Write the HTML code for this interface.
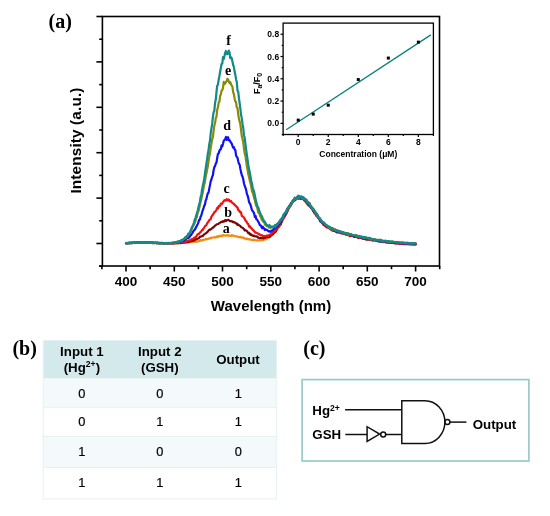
<!DOCTYPE html>
<html><head><meta charset="utf-8"><style>
html,body{margin:0;padding:0;background:#fff;}
body{width:550px;height:516px;overflow:hidden;position:relative;}
svg{position:absolute;left:0;top:0;}
.tl{font:bold 13.5px "Liberation Sans",Arial,sans-serif;text-anchor:middle;fill:#000;}
.al{font:bold 15px "Liberation Sans",Arial,sans-serif;text-anchor:middle;fill:#000;}
.il{font:bold 8.5px "Liberation Sans",Arial,sans-serif;fill:#000;}
.it{font:bold 8.5px "Liberation Sans",Arial,sans-serif;fill:#000;}
.cl{font:bold 14px "Liberation Serif","Times New Roman",serif;fill:#000;}
.pl{font:bold 20px "Liberation Serif","Times New Roman",serif;fill:#000;}
.th{font:bold 13.3px "Liberation Sans",Arial,sans-serif;fill:#000;text-anchor:middle;}
.td{font:12.8px "Liberation Sans",Arial,sans-serif;fill:#000;stroke:#000;stroke-width:0.2px;text-anchor:middle;}
.gl{font:bold 13.3px "Liberation Sans",Arial,sans-serif;fill:#000;}
</style></head><body>
<svg width="550" height="516" viewBox="0 0 550 516">
<text x="48.6" y="27.9" class="pl">(a)</text>
<text x="12.4" y="354.6" class="pl">(b)</text>
<text x="303.3" y="355" class="pl">(c)</text>
<text x="271" y="311" class="al">Wavelength (nm)</text>
<text transform="translate(80.6,140.5) rotate(-90)" class="al" style="font-size:15.3px;letter-spacing:0.15px">Intensity (a.u.)</text>
<rect x="102.4" y="16.5" width="337.1" height="249.5" fill="none" stroke="#000" stroke-width="1.6"/>
<line x1="96.4" y1="16.5" x2="102.4" y2="16.5" stroke="#000" stroke-width="1.6"/>
<line x1="99.2" y1="39.2" x2="102.4" y2="39.2" stroke="#000" stroke-width="1.6"/>
<line x1="96.4" y1="61.9" x2="102.4" y2="61.9" stroke="#000" stroke-width="1.6"/>
<line x1="99.2" y1="84.6" x2="102.4" y2="84.6" stroke="#000" stroke-width="1.6"/>
<line x1="96.4" y1="107.3" x2="102.4" y2="107.3" stroke="#000" stroke-width="1.6"/>
<line x1="99.2" y1="130.0" x2="102.4" y2="130.0" stroke="#000" stroke-width="1.6"/>
<line x1="96.4" y1="152.7" x2="102.4" y2="152.7" stroke="#000" stroke-width="1.6"/>
<line x1="99.2" y1="175.4" x2="102.4" y2="175.4" stroke="#000" stroke-width="1.6"/>
<line x1="96.4" y1="198.1" x2="102.4" y2="198.1" stroke="#000" stroke-width="1.6"/>
<line x1="99.2" y1="220.8" x2="102.4" y2="220.8" stroke="#000" stroke-width="1.6"/>
<line x1="96.4" y1="243.5" x2="102.4" y2="243.5" stroke="#000" stroke-width="1.6"/>
<line x1="99.2" y1="266.2" x2="102.4" y2="266.2" stroke="#000" stroke-width="1.6"/>
<line x1="99.2" y1="266.0" x2="102.4" y2="266.0" stroke="#000" stroke-width="1.6"/>
<line x1="101.9" y1="266.0" x2="101.9" y2="269.2" stroke="#000" stroke-width="1.6"/>
<line x1="126.0" y1="266.0" x2="126.0" y2="271.5" stroke="#000" stroke-width="1.6"/>
<text x="126.0" y="285.5" class="tl">400</text>
<line x1="150.1" y1="266.0" x2="150.1" y2="269.2" stroke="#000" stroke-width="1.6"/>
<line x1="174.3" y1="266.0" x2="174.3" y2="271.5" stroke="#000" stroke-width="1.6"/>
<text x="174.3" y="285.5" class="tl">450</text>
<line x1="198.4" y1="266.0" x2="198.4" y2="269.2" stroke="#000" stroke-width="1.6"/>
<line x1="222.5" y1="266.0" x2="222.5" y2="271.5" stroke="#000" stroke-width="1.6"/>
<text x="222.5" y="285.5" class="tl">500</text>
<line x1="246.7" y1="266.0" x2="246.7" y2="269.2" stroke="#000" stroke-width="1.6"/>
<line x1="270.8" y1="266.0" x2="270.8" y2="271.5" stroke="#000" stroke-width="1.6"/>
<text x="270.8" y="285.5" class="tl">550</text>
<line x1="294.9" y1="266.0" x2="294.9" y2="269.2" stroke="#000" stroke-width="1.6"/>
<line x1="319.1" y1="266.0" x2="319.1" y2="271.5" stroke="#000" stroke-width="1.6"/>
<text x="319.1" y="285.5" class="tl">600</text>
<line x1="343.2" y1="266.0" x2="343.2" y2="269.2" stroke="#000" stroke-width="1.6"/>
<line x1="367.3" y1="266.0" x2="367.3" y2="271.5" stroke="#000" stroke-width="1.6"/>
<text x="367.3" y="285.5" class="tl">650</text>
<line x1="391.5" y1="266.0" x2="391.5" y2="269.2" stroke="#000" stroke-width="1.6"/>
<line x1="415.6" y1="266.0" x2="415.6" y2="271.5" stroke="#000" stroke-width="1.6"/>
<text x="415.6" y="285.5" class="tl">700</text>
<line x1="439.7" y1="266.0" x2="439.7" y2="269.2" stroke="#000" stroke-width="1.6"/>
<path d="M126.00,243.14 L126.72,243.08 L127.45,243.13 L128.17,243.19 L128.90,243.11 L129.62,243.15 L130.34,242.97 L131.07,242.74 L131.79,242.99 L132.52,242.97 L133.24,242.76 L133.96,242.75 L134.69,242.75 L135.41,242.88 L136.14,242.70 L136.86,242.55 L137.58,242.86 L138.31,242.68 L139.03,242.90 L139.76,242.78 L140.48,242.86 L141.20,242.56 L141.93,242.73 L142.65,242.45 L143.38,242.47 L144.10,242.53 L144.82,242.95 L145.55,242.61 L146.27,242.54 L147.00,242.53 L147.72,242.84 L148.44,242.68 L149.17,242.80 L149.89,242.80 L150.62,242.52 L151.34,242.86 L152.06,242.77 L152.79,242.66 L153.51,242.93 L154.24,242.89 L154.96,242.89 L155.68,242.93 L156.41,243.16 L157.13,242.99 L157.85,242.84 L158.58,243.28 L159.30,242.97 L160.03,243.09 L160.75,243.22 L161.47,242.88 L162.20,243.07 L162.92,243.34 L163.65,243.18 L164.37,243.13 L165.09,243.24 L165.82,243.13 L166.54,243.23 L167.27,243.14 L167.99,243.05 L168.71,243.31 L169.44,243.20 L170.16,243.28 L170.89,243.20 L171.61,243.36 L172.33,243.28 L173.06,243.22 L173.78,243.07 L174.51,243.02 L175.23,243.33 L175.95,243.25 L176.68,243.04 L177.40,243.38 L178.13,243.15 L178.85,243.07 L179.57,242.85 L180.30,242.90 L181.02,243.02 L181.75,243.00 L182.47,242.94 L183.19,242.63 L183.92,242.89 L184.64,242.82 L185.37,242.67 L186.09,242.69 L186.81,242.65 L187.54,242.74 L188.26,242.49 L188.99,242.49 L189.71,242.13 L190.43,242.14 L191.16,242.18 L191.88,241.95 L192.61,242.05 L193.33,241.68 L194.05,241.78 L194.78,241.55 L195.50,241.83 L196.23,241.35 L196.95,241.67 L197.67,241.62 L198.40,241.10 L199.12,241.09 L199.85,240.70 L200.57,240.04 L201.29,240.62 L202.02,240.41 L202.74,240.04 L203.47,239.79 L204.19,239.79 L204.91,239.62 L205.64,239.19 L206.36,239.06 L207.09,239.30 L207.81,238.85 L208.53,238.62 L209.26,238.75 L209.98,238.18 L210.71,238.32 L211.43,237.59 L212.15,237.64 L212.88,237.49 L213.60,237.52 L214.32,237.20 L215.05,237.62 L215.77,237.19 L216.50,236.55 L217.22,237.20 L217.94,236.10 L218.67,236.81 L219.39,235.86 L220.12,236.27 L220.84,235.62 L221.56,235.74 L222.29,236.21 L223.01,235.20 L223.74,235.07 L224.46,235.52 L225.18,235.55 L225.91,235.48 L226.63,235.74 L227.36,235.03 L228.08,235.59 L228.80,235.44 L229.53,235.72 L230.25,235.71 L230.98,235.98 L231.70,235.20 L232.42,235.75 L233.15,235.46 L233.87,235.88 L234.60,236.22 L235.32,236.22 L236.04,236.42 L236.77,236.37 L237.49,236.64 L238.22,236.76 L238.94,237.26 L239.66,237.24 L240.39,236.64 L241.11,237.53 L241.84,237.82 L242.56,237.58 L243.28,237.44 L244.01,238.47 L244.73,238.29 L245.46,238.59 L246.18,239.09 L246.90,238.57 L247.63,238.96 L248.35,239.10 L249.08,239.48 L249.80,239.30 L250.52,239.70 L251.25,239.72 L251.97,240.09 L252.70,240.23 L253.42,239.68 L254.14,240.24 L254.87,240.13 L255.59,240.28 L256.32,240.43 L257.04,240.49 L257.76,240.24 L258.49,240.48 L259.21,240.43 L259.94,240.36 L260.66,240.03 L261.38,240.08 L262.11,240.06 L262.83,240.17 L263.56,240.23 L264.28,239.45 L265.00,239.22 L265.73,239.27 L266.45,238.80 L267.18,238.40 L267.90,238.01 L268.62,237.57 L269.35,237.53 L270.07,236.41 L270.80,236.74 L271.52,235.45 L272.24,234.91 L272.97,234.06 L273.69,232.93 L274.41,232.24 L275.14,232.37 L275.86,231.67 L276.59,229.68 L277.31,229.41 L278.03,227.90 L278.76,226.38 L279.48,226.32 L280.21,225.33 L280.93,222.95 L281.65,221.75 L282.38,220.56 L283.10,219.05 L283.83,218.15 L284.55,217.12 L285.27,214.99 L286.00,214.05 L286.72,213.05 L287.45,210.44 L288.17,209.42 L288.89,207.83 L289.62,207.41 L290.34,205.99 L291.07,205.04 L291.79,203.88 L292.51,202.17 L293.24,201.87 L293.96,200.27 L294.69,199.53 L295.41,197.75 L296.13,199.48 L296.86,197.52 L297.58,197.86 L298.31,197.60 L299.03,198.49 L299.75,197.86 L300.48,197.18 L301.20,197.94 L301.93,198.08 L302.65,198.60 L303.37,197.99 L304.10,199.26 L304.82,201.30 L305.55,200.98 L306.27,202.56 L306.99,204.17 L307.72,203.22 L308.44,202.85 L309.17,204.48 L309.89,206.13 L310.61,206.93 L311.34,206.66 L312.06,208.29 L312.79,209.42 L313.51,210.54 L314.23,211.54 L314.96,212.12 L315.68,213.27 L316.41,214.49 L317.13,216.23 L317.85,216.44 L318.58,218.12 L319.30,218.20 L320.03,220.39 L320.75,220.72 L321.47,221.48 L322.20,222.87 L322.92,222.08 L323.65,222.86 L324.37,224.39 L325.09,224.39 L325.82,225.12 L326.54,227.01 L327.27,226.21 L327.99,226.85 L328.71,227.26 L329.44,228.22 L330.16,228.31 L330.88,228.68 L331.61,228.49 L332.33,229.20 L333.06,229.67 L333.78,229.35 L334.50,230.49 L335.23,230.71 L335.95,231.55 L336.68,230.46 L337.40,230.95 L338.12,231.21 L338.85,231.55 L339.57,231.99 L340.30,232.17 L341.02,232.56 L341.74,232.76 L342.47,232.87 L343.19,232.53 L343.92,233.09 L344.64,233.51 L345.36,233.90 L346.09,234.11 L346.81,233.50 L347.54,234.08 L348.26,234.42 L348.98,234.75 L349.71,235.19 L350.43,235.00 L351.16,234.86 L351.88,235.46 L352.60,235.57 L353.33,235.74 L354.05,235.79 L354.78,236.52 L355.50,236.23 L356.22,236.59 L356.95,236.19 L357.67,236.87 L358.40,236.60 L359.12,236.45 L359.84,237.18 L360.57,237.41 L361.29,237.32 L362.02,237.52 L362.74,237.96 L363.46,237.67 L364.19,237.35 L364.91,238.16 L365.64,238.29 L366.36,238.67 L367.08,238.41 L367.81,239.00 L368.53,239.09 L369.26,238.57 L369.98,239.31 L370.70,238.90 L371.43,238.93 L372.15,239.40 L372.88,239.46 L373.60,239.23 L374.32,239.92 L375.05,240.15 L375.77,240.47 L376.50,240.25 L377.22,240.02 L377.94,240.27 L378.67,240.85 L379.39,240.94 L380.12,240.97 L380.84,240.90 L381.56,241.12 L382.29,241.13 L383.01,241.22 L383.74,241.44 L384.46,241.48 L385.18,241.52 L385.91,241.66 L386.63,241.62 L387.35,241.42 L388.08,241.76 L388.80,241.94 L389.53,242.36 L390.25,242.03 L390.97,242.55 L391.70,242.51 L392.42,242.16 L393.15,242.26 L393.87,242.49 L394.59,242.83 L395.32,242.67 L396.04,242.78 L396.77,242.63 L397.49,242.44 L398.21,242.83 L398.94,243.05 L399.66,243.17 L400.39,243.06 L401.11,243.14 L401.83,243.32 L402.56,243.21 L403.28,243.41 L404.01,243.22 L404.73,243.27 L405.45,243.32 L406.18,243.52 L406.90,243.46 L407.63,243.57 L408.35,243.63 L409.07,243.66 L409.80,243.79 L410.52,243.83 L411.25,243.64 L411.97,243.76 L412.69,243.74 L413.42,243.68 L414.14,243.97 L414.87,243.88 L415.59,243.80" stroke="#f68a10" stroke-width="2.2" fill="none" stroke-linejoin="round" stroke-linecap="round"/>
<path d="M126.00,243.09 L126.72,243.17 L127.45,242.95 L128.17,243.04 L128.90,243.21 L129.62,243.15 L130.34,242.86 L131.07,242.88 L131.79,243.20 L132.52,242.67 L133.24,242.74 L133.96,242.59 L134.69,242.83 L135.41,242.78 L136.14,242.88 L136.86,242.24 L137.58,242.66 L138.31,242.33 L139.03,242.69 L139.76,242.53 L140.48,242.83 L141.20,242.59 L141.93,242.34 L142.65,242.72 L143.38,242.31 L144.10,242.44 L144.82,242.69 L145.55,242.61 L146.27,242.62 L147.00,242.56 L147.72,242.67 L148.44,242.74 L149.17,242.68 L149.89,242.83 L150.62,242.91 L151.34,242.74 L152.06,242.62 L152.79,243.05 L153.51,242.84 L154.24,242.97 L154.96,243.06 L155.68,242.81 L156.41,243.05 L157.13,242.79 L157.85,243.15 L158.58,243.01 L159.30,243.12 L160.03,243.21 L160.75,243.05 L161.47,243.17 L162.20,243.09 L162.92,243.19 L163.65,243.33 L164.37,243.22 L165.09,243.20 L165.82,243.10 L166.54,243.33 L167.27,243.23 L167.99,243.43 L168.71,243.14 L169.44,243.35 L170.16,243.44 L170.89,243.21 L171.61,243.05 L172.33,243.38 L173.06,243.31 L173.78,243.24 L174.51,243.28 L175.23,243.05 L175.95,243.19 L176.68,243.15 L177.40,242.92 L178.13,243.08 L178.85,242.86 L179.57,243.03 L180.30,243.02 L181.02,243.06 L181.75,242.39 L182.47,242.68 L183.19,242.51 L183.92,242.47 L184.64,242.33 L185.37,242.25 L186.09,241.78 L186.81,242.22 L187.54,242.19 L188.26,241.94 L188.99,241.85 L189.71,241.23 L190.43,241.02 L191.16,241.21 L191.88,241.10 L192.61,240.63 L193.33,239.94 L194.05,240.74 L194.78,239.60 L195.50,239.72 L196.23,238.82 L196.95,239.07 L197.67,238.49 L198.40,238.48 L199.12,237.93 L199.85,236.79 L200.57,236.53 L201.29,236.47 L202.02,236.15 L202.74,236.02 L203.47,235.01 L204.19,234.37 L204.91,233.86 L205.64,233.31 L206.36,233.14 L207.09,232.18 L207.81,231.59 L208.53,230.48 L209.26,229.64 L209.98,229.86 L210.71,229.53 L211.43,228.65 L212.15,228.29 L212.88,227.77 L213.60,226.89 L214.32,226.76 L215.05,225.46 L215.77,225.25 L216.50,224.56 L217.22,224.26 L217.94,224.04 L218.67,223.69 L219.39,222.92 L220.12,222.68 L220.84,221.93 L221.56,221.71 L222.29,222.09 L223.01,221.11 L223.74,221.59 L224.46,220.91 L225.18,220.10 L225.91,221.07 L226.63,220.37 L227.36,220.17 L228.08,219.79 L228.80,220.17 L229.53,220.78 L230.25,221.23 L230.98,221.05 L231.70,221.42 L232.42,221.36 L233.15,222.30 L233.87,221.92 L234.60,222.34 L235.32,222.88 L236.04,223.45 L236.77,223.43 L237.49,224.95 L238.22,224.46 L238.94,225.08 L239.66,225.60 L240.39,226.11 L241.11,227.14 L241.84,227.54 L242.56,227.74 L243.28,228.42 L244.01,229.10 L244.73,230.40 L245.46,230.15 L246.18,230.48 L246.90,231.13 L247.63,232.00 L248.35,233.24 L249.08,232.80 L249.80,233.66 L250.52,234.95 L251.25,234.33 L251.97,235.39 L252.70,235.70 L253.42,235.83 L254.14,235.54 L254.87,236.40 L255.59,236.50 L256.32,236.31 L257.04,236.61 L257.76,237.37 L258.49,237.61 L259.21,238.08 L259.94,238.05 L260.66,237.83 L261.38,237.92 L262.11,238.05 L262.83,237.80 L263.56,238.30 L264.28,238.03 L265.00,237.69 L265.73,237.59 L266.45,237.26 L267.18,237.23 L267.90,237.17 L268.62,236.63 L269.35,236.69 L270.07,236.48 L270.80,235.26 L271.52,234.94 L272.24,234.21 L272.97,234.29 L273.69,233.09 L274.41,232.42 L275.14,231.70 L275.86,231.39 L276.59,229.67 L277.31,228.15 L278.03,227.31 L278.76,226.64 L279.48,225.23 L280.21,223.66 L280.93,224.11 L281.65,221.55 L282.38,219.90 L283.10,218.48 L283.83,216.57 L284.55,215.48 L285.27,214.54 L286.00,213.16 L286.72,211.50 L287.45,210.91 L288.17,209.28 L288.89,207.41 L289.62,205.49 L290.34,205.58 L291.07,204.36 L291.79,203.12 L292.51,201.37 L293.24,201.32 L293.96,199.50 L294.69,200.36 L295.41,199.20 L296.13,198.68 L296.86,197.60 L297.58,197.12 L298.31,198.65 L299.03,198.19 L299.75,197.40 L300.48,198.22 L301.20,199.02 L301.93,197.58 L302.65,198.25 L303.37,198.63 L304.10,199.79 L304.82,199.42 L305.55,200.97 L306.27,200.88 L306.99,203.00 L307.72,203.80 L308.44,203.96 L309.17,205.37 L309.89,205.42 L310.61,206.65 L311.34,208.39 L312.06,208.84 L312.79,210.17 L313.51,210.50 L314.23,212.46 L314.96,213.38 L315.68,213.46 L316.41,213.93 L317.13,215.14 L317.85,217.25 L318.58,218.22 L319.30,218.56 L320.03,220.39 L320.75,221.72 L321.47,222.01 L322.20,222.59 L322.92,223.90 L323.65,224.93 L324.37,225.43 L325.09,225.04 L325.82,226.24 L326.54,226.48 L327.27,226.83 L327.99,227.14 L328.71,228.04 L329.44,228.14 L330.16,229.17 L330.88,229.35 L331.61,230.01 L332.33,229.48 L333.06,230.28 L333.78,230.87 L334.50,231.01 L335.23,231.24 L335.95,231.14 L336.68,232.30 L337.40,232.33 L338.12,232.32 L338.85,231.44 L339.57,232.27 L340.30,232.90 L341.02,232.80 L341.74,232.52 L342.47,233.57 L343.19,233.82 L343.92,233.46 L344.64,233.91 L345.36,234.05 L346.09,234.66 L346.81,234.00 L347.54,234.27 L348.26,234.85 L348.98,234.99 L349.71,236.09 L350.43,235.37 L351.16,235.82 L351.88,235.78 L352.60,235.87 L353.33,236.38 L354.05,236.98 L354.78,236.48 L355.50,236.99 L356.22,237.02 L356.95,237.26 L357.67,237.33 L358.40,238.09 L359.12,237.16 L359.84,237.60 L360.57,237.50 L361.29,237.39 L362.02,238.11 L362.74,238.79 L363.46,238.66 L364.19,238.89 L364.91,238.83 L365.64,238.81 L366.36,239.52 L367.08,239.01 L367.81,239.65 L368.53,239.30 L369.26,239.55 L369.98,239.74 L370.70,239.82 L371.43,240.07 L372.15,240.23 L372.88,240.63 L373.60,240.35 L374.32,240.02 L375.05,240.13 L375.77,240.42 L376.50,240.69 L377.22,241.14 L377.94,240.78 L378.67,241.24 L379.39,241.36 L380.12,241.52 L380.84,241.55 L381.56,241.77 L382.29,241.80 L383.01,242.10 L383.74,242.05 L384.46,241.63 L385.18,242.18 L385.91,242.29 L386.63,242.23 L387.35,242.28 L388.08,242.68 L388.80,242.59 L389.53,242.47 L390.25,242.66 L390.97,242.76 L391.70,242.60 L392.42,243.02 L393.15,242.98 L393.87,243.14 L394.59,242.93 L395.32,243.45 L396.04,243.35 L396.77,243.39 L397.49,243.34 L398.21,243.41 L398.94,243.39 L399.66,243.75 L400.39,243.58 L401.11,243.74 L401.83,243.84 L402.56,243.77 L403.28,243.97 L404.01,244.14 L404.73,244.01 L405.45,244.17 L406.18,244.13 L406.90,244.08 L407.63,244.12 L408.35,244.03 L409.07,244.25 L409.80,244.41 L410.52,244.36 L411.25,244.41 L411.97,244.46 L412.69,244.32 L413.42,244.44 L414.14,244.59 L414.87,244.33 L415.59,244.43" stroke="#7a0808" stroke-width="2.2" fill="none" stroke-linejoin="round" stroke-linecap="round"/>
<path d="M126.00,243.09 L126.72,243.10 L127.45,243.01 L128.17,243.06 L128.90,242.86 L129.62,242.95 L130.34,242.92 L131.07,242.88 L131.79,243.13 L132.52,242.90 L133.24,242.88 L133.96,242.77 L134.69,242.99 L135.41,242.46 L136.14,242.68 L136.86,242.87 L137.58,242.92 L138.31,242.65 L139.03,242.59 L139.76,242.68 L140.48,242.52 L141.20,242.63 L141.93,242.41 L142.65,242.63 L143.38,242.51 L144.10,242.33 L144.82,242.06 L145.55,242.70 L146.27,242.62 L147.00,242.70 L147.72,242.44 L148.44,242.80 L149.17,242.71 L149.89,242.67 L150.62,242.86 L151.34,242.89 L152.06,242.84 L152.79,243.14 L153.51,243.07 L154.24,242.94 L154.96,242.89 L155.68,242.97 L156.41,243.24 L157.13,243.07 L157.85,242.92 L158.58,242.98 L159.30,243.10 L160.03,243.23 L160.75,243.05 L161.47,243.23 L162.20,243.32 L162.92,243.28 L163.65,243.00 L164.37,243.17 L165.09,243.06 L165.82,243.27 L166.54,243.09 L167.27,243.29 L167.99,243.23 L168.71,242.89 L169.44,243.10 L170.16,243.25 L170.89,243.18 L171.61,243.11 L172.33,242.98 L173.06,243.18 L173.78,243.33 L174.51,243.10 L175.23,243.02 L175.95,242.97 L176.68,242.74 L177.40,242.84 L178.13,242.70 L178.85,242.95 L179.57,242.55 L180.30,242.25 L181.02,242.38 L181.75,242.37 L182.47,242.27 L183.19,241.84 L183.92,242.22 L184.64,241.90 L185.37,241.61 L186.09,241.36 L186.81,241.41 L187.54,241.02 L188.26,240.91 L188.99,240.54 L189.71,240.31 L190.43,240.25 L191.16,239.62 L191.88,239.00 L192.61,239.11 L193.33,238.48 L194.05,237.75 L194.78,237.77 L195.50,236.86 L196.23,236.70 L196.95,235.38 L197.67,234.33 L198.40,233.73 L199.12,233.82 L199.85,232.72 L200.57,232.17 L201.29,231.36 L202.02,229.93 L202.74,230.21 L203.47,228.30 L204.19,227.82 L204.91,226.19 L205.64,225.72 L206.36,225.09 L207.09,223.58 L207.81,222.28 L208.53,221.53 L209.26,220.19 L209.98,219.59 L210.71,219.32 L211.43,216.59 L212.15,215.58 L212.88,214.76 L213.60,213.70 L214.32,212.07 L215.05,211.86 L215.77,210.98 L216.50,209.67 L217.22,207.88 L217.94,208.51 L218.67,206.06 L219.39,206.36 L220.12,205.88 L220.84,203.69 L221.56,203.90 L222.29,203.64 L223.01,201.78 L223.74,201.26 L224.46,200.13 L225.18,200.52 L225.91,200.53 L226.63,199.13 L227.36,200.44 L228.08,200.36 L228.80,199.48 L229.53,201.26 L230.25,201.33 L230.98,201.00 L231.70,202.29 L232.42,202.82 L233.15,203.52 L233.87,203.78 L234.60,205.06 L235.32,205.42 L236.04,206.05 L236.77,207.31 L237.49,207.23 L238.22,210.05 L238.94,210.08 L239.66,211.77 L240.39,211.59 L241.11,212.78 L241.84,215.91 L242.56,216.47 L243.28,216.70 L244.01,217.76 L244.73,218.91 L245.46,220.44 L246.18,221.28 L246.90,222.27 L247.63,223.69 L248.35,224.22 L249.08,226.66 L249.80,226.20 L250.52,227.76 L251.25,227.69 L251.97,228.96 L252.70,229.96 L253.42,230.13 L254.14,231.30 L254.87,231.91 L255.59,232.74 L256.32,232.69 L257.04,233.01 L257.76,233.29 L258.49,234.14 L259.21,234.11 L259.94,234.82 L260.66,235.17 L261.38,235.21 L262.11,235.27 L262.83,235.91 L263.56,236.01 L264.28,236.07 L265.00,236.02 L265.73,236.33 L266.45,235.63 L267.18,235.98 L267.90,235.52 L268.62,235.73 L269.35,235.04 L270.07,234.68 L270.80,234.56 L271.52,233.22 L272.24,233.29 L272.97,232.17 L273.69,231.82 L274.41,231.73 L275.14,230.85 L275.86,229.68 L276.59,228.94 L277.31,227.99 L278.03,227.12 L278.76,226.74 L279.48,224.91 L280.21,224.69 L280.93,222.24 L281.65,221.53 L282.38,220.24 L283.10,218.67 L283.83,217.07 L284.55,216.64 L285.27,215.47 L286.00,213.73 L286.72,212.94 L287.45,210.99 L288.17,208.15 L288.89,208.45 L289.62,206.15 L290.34,206.21 L291.07,204.02 L291.79,203.34 L292.51,202.17 L293.24,200.83 L293.96,199.22 L294.69,199.50 L295.41,198.91 L296.13,199.12 L296.86,197.65 L297.58,197.91 L298.31,196.99 L299.03,197.52 L299.75,196.37 L300.48,199.03 L301.20,198.11 L301.93,197.59 L302.65,198.71 L303.37,199.38 L304.10,199.54 L304.82,200.89 L305.55,200.61 L306.27,199.87 L306.99,201.53 L307.72,203.81 L308.44,204.49 L309.17,205.03 L309.89,205.05 L310.61,207.15 L311.34,208.08 L312.06,208.18 L312.79,209.26 L313.51,211.06 L314.23,212.55 L314.96,213.82 L315.68,214.33 L316.41,216.20 L317.13,215.62 L317.85,217.42 L318.58,217.88 L319.30,218.19 L320.03,219.53 L320.75,221.61 L321.47,221.44 L322.20,222.05 L322.92,223.66 L323.65,224.40 L324.37,224.62 L325.09,225.88 L325.82,225.02 L326.54,227.30 L327.27,227.22 L327.99,227.33 L328.71,227.79 L329.44,228.08 L330.16,228.47 L330.88,229.09 L331.61,228.91 L332.33,230.62 L333.06,230.06 L333.78,230.66 L334.50,230.61 L335.23,230.86 L335.95,231.58 L336.68,231.73 L337.40,231.42 L338.12,231.84 L338.85,232.47 L339.57,231.66 L340.30,231.78 L341.02,233.42 L341.74,232.97 L342.47,232.36 L343.19,233.20 L343.92,233.61 L344.64,233.97 L345.36,234.28 L346.09,234.36 L346.81,234.66 L347.54,234.40 L348.26,234.98 L348.98,235.18 L349.71,235.62 L350.43,235.40 L351.16,235.86 L351.88,235.79 L352.60,235.55 L353.33,235.94 L354.05,236.07 L354.78,236.28 L355.50,236.53 L356.22,236.75 L356.95,236.97 L357.67,236.79 L358.40,237.51 L359.12,236.92 L359.84,237.47 L360.57,237.85 L361.29,237.92 L362.02,238.12 L362.74,238.02 L363.46,238.42 L364.19,238.02 L364.91,238.71 L365.64,239.27 L366.36,238.97 L367.08,239.46 L367.81,239.06 L368.53,238.90 L369.26,239.15 L369.98,239.82 L370.70,239.80 L371.43,239.27 L372.15,239.79 L372.88,240.01 L373.60,239.88 L374.32,239.66 L375.05,240.09 L375.77,240.50 L376.50,240.57 L377.22,240.64 L377.94,241.05 L378.67,241.27 L379.39,241.13 L380.12,241.47 L380.84,241.38 L381.56,241.45 L382.29,241.08 L383.01,241.86 L383.74,241.80 L384.46,241.91 L385.18,241.88 L385.91,241.84 L386.63,242.22 L387.35,242.36 L388.08,242.58 L388.80,242.52 L389.53,242.33 L390.25,242.49 L390.97,242.75 L391.70,242.71 L392.42,242.72 L393.15,242.71 L393.87,242.96 L394.59,242.97 L395.32,243.27 L396.04,243.23 L396.77,242.92 L397.49,243.48 L398.21,243.31 L398.94,243.31 L399.66,243.43 L400.39,243.53 L401.11,243.52 L401.83,243.57 L402.56,243.63 L403.28,243.86 L404.01,243.74 L404.73,243.86 L405.45,243.88 L406.18,243.85 L406.90,243.85 L407.63,243.86 L408.35,244.04 L409.07,243.93 L409.80,243.94 L410.52,243.97 L411.25,243.98 L411.97,244.15 L412.69,244.18 L413.42,244.09 L414.14,244.33 L414.87,244.18 L415.59,244.27" stroke="#f01010" stroke-width="2.2" fill="none" stroke-linejoin="round" stroke-linecap="round"/>
<path d="M126.00,243.19 L126.72,243.36 L127.45,243.22 L128.17,243.07 L128.90,242.91 L129.62,242.87 L130.34,242.99 L131.07,242.97 L131.79,243.04 L132.52,242.81 L133.24,242.88 L133.96,242.71 L134.69,242.48 L135.41,242.74 L136.14,242.94 L136.86,242.81 L137.58,242.88 L138.31,242.81 L139.03,242.35 L139.76,242.51 L140.48,242.80 L141.20,242.41 L141.93,242.29 L142.65,242.57 L143.38,242.62 L144.10,242.56 L144.82,242.46 L145.55,242.41 L146.27,242.33 L147.00,242.34 L147.72,242.37 L148.44,242.37 L149.17,242.52 L149.89,242.92 L150.62,242.72 L151.34,242.68 L152.06,242.83 L152.79,242.65 L153.51,242.89 L154.24,243.02 L154.96,242.68 L155.68,242.84 L156.41,242.94 L157.13,242.87 L157.85,242.88 L158.58,243.01 L159.30,243.42 L160.03,243.19 L160.75,243.18 L161.47,243.27 L162.20,243.12 L162.92,243.00 L163.65,243.23 L164.37,243.32 L165.09,242.91 L165.82,243.23 L166.54,243.33 L167.27,243.12 L167.99,243.09 L168.71,243.22 L169.44,243.00 L170.16,243.15 L170.89,243.18 L171.61,242.98 L172.33,242.85 L173.06,243.01 L173.78,242.80 L174.51,242.80 L175.23,242.24 L175.95,242.74 L176.68,242.28 L177.40,242.41 L178.13,242.30 L178.85,241.99 L179.57,241.78 L180.30,241.51 L181.02,241.49 L181.75,241.46 L182.47,241.19 L183.19,240.65 L183.92,240.31 L184.64,239.74 L185.37,239.58 L186.09,238.97 L186.81,238.35 L187.54,238.20 L188.26,238.11 L188.99,237.40 L189.71,236.81 L190.43,235.05 L191.16,235.07 L191.88,233.44 L192.61,232.71 L193.33,231.24 L194.05,230.39 L194.78,229.65 L195.50,228.42 L196.23,226.95 L196.95,225.46 L197.67,224.26 L198.40,222.40 L199.12,219.86 L199.85,219.76 L200.57,216.84 L201.29,215.49 L202.02,212.81 L202.74,210.26 L203.47,208.54 L204.19,205.70 L204.91,204.78 L205.64,200.57 L206.36,199.15 L207.09,195.72 L207.81,193.36 L208.53,192.64 L209.26,188.60 L209.98,185.12 L210.71,181.31 L211.43,179.49 L212.15,176.72 L212.88,175.30 L213.60,170.25 L214.32,167.21 L215.05,166.05 L215.77,163.68 L216.50,162.40 L217.22,157.80 L217.94,153.85 L218.67,153.42 L219.39,150.85 L220.12,149.57 L220.84,149.20 L221.56,145.41 L222.29,146.37 L223.01,143.76 L223.74,140.83 L224.46,139.80 L225.18,139.55 L225.91,136.94 L226.63,139.86 L227.36,139.21 L228.08,137.18 L228.80,140.23 L229.53,140.10 L230.25,141.39 L230.98,142.55 L231.70,143.68 L232.42,145.73 L233.15,147.49 L233.87,147.17 L234.60,149.49 L235.32,150.17 L236.04,155.42 L236.77,156.87 L237.49,157.77 L238.22,161.17 L238.94,163.77 L239.66,164.62 L240.39,168.99 L241.11,172.36 L241.84,175.21 L242.56,176.65 L243.28,179.46 L244.01,183.52 L244.73,185.99 L245.46,187.62 L246.18,190.33 L246.90,193.89 L247.63,195.66 L248.35,198.29 L249.08,202.14 L249.80,203.30 L250.52,204.89 L251.25,207.48 L251.97,210.30 L252.70,211.01 L253.42,212.15 L254.14,213.36 L254.87,217.01 L255.59,215.92 L256.32,219.32 L257.04,219.59 L257.76,220.72 L258.49,222.04 L259.21,223.55 L259.94,225.19 L260.66,225.31 L261.38,226.78 L262.11,228.37 L262.83,226.75 L263.56,228.31 L264.28,228.41 L265.00,230.03 L265.73,229.46 L266.45,229.75 L267.18,230.03 L267.90,230.84 L268.62,231.41 L269.35,231.03 L270.07,231.78 L270.80,231.45 L271.52,230.52 L272.24,230.67 L272.97,229.97 L273.69,229.50 L274.41,228.12 L275.14,227.78 L275.86,227.69 L276.59,226.39 L277.31,226.47 L278.03,225.39 L278.76,223.87 L279.48,223.89 L280.21,222.37 L280.93,221.78 L281.65,219.90 L282.38,217.90 L283.10,217.92 L283.83,216.13 L284.55,215.46 L285.27,214.31 L286.00,213.07 L286.72,210.20 L287.45,208.36 L288.17,208.19 L288.89,207.67 L289.62,205.59 L290.34,205.07 L291.07,203.24 L291.79,202.52 L292.51,201.55 L293.24,200.44 L293.96,200.40 L294.69,199.57 L295.41,199.83 L296.13,198.47 L296.86,198.72 L297.58,197.57 L298.31,197.94 L299.03,197.17 L299.75,196.98 L300.48,198.40 L301.20,198.21 L301.93,198.56 L302.65,197.72 L303.37,197.45 L304.10,198.52 L304.82,199.93 L305.55,199.43 L306.27,202.14 L306.99,200.98 L307.72,203.19 L308.44,205.36 L309.17,202.75 L309.89,204.33 L310.61,206.91 L311.34,207.18 L312.06,208.45 L312.79,209.32 L313.51,211.32 L314.23,211.90 L314.96,212.26 L315.68,213.41 L316.41,213.90 L317.13,215.57 L317.85,215.41 L318.58,218.10 L319.30,218.61 L320.03,220.70 L320.75,221.26 L321.47,220.79 L322.20,222.66 L322.92,222.63 L323.65,223.57 L324.37,224.65 L325.09,224.90 L325.82,225.52 L326.54,226.03 L327.27,225.97 L327.99,226.52 L328.71,227.54 L329.44,228.14 L330.16,228.06 L330.88,228.64 L331.61,228.55 L332.33,228.23 L333.06,229.31 L333.78,229.98 L334.50,230.33 L335.23,230.89 L335.95,231.18 L336.68,231.47 L337.40,231.48 L338.12,231.74 L338.85,231.51 L339.57,232.18 L340.30,232.33 L341.02,232.93 L341.74,232.06 L342.47,232.69 L343.19,232.42 L343.92,233.00 L344.64,232.94 L345.36,233.78 L346.09,233.62 L346.81,233.10 L347.54,234.69 L348.26,234.03 L348.98,234.03 L349.71,234.66 L350.43,234.72 L351.16,234.72 L351.88,235.55 L352.60,235.36 L353.33,235.96 L354.05,236.06 L354.78,236.20 L355.50,236.20 L356.22,236.26 L356.95,236.32 L357.67,237.09 L358.40,236.14 L359.12,236.56 L359.84,236.85 L360.57,237.34 L361.29,237.40 L362.02,237.35 L362.74,237.54 L363.46,238.32 L364.19,237.72 L364.91,237.21 L365.64,238.78 L366.36,238.07 L367.08,238.40 L367.81,238.68 L368.53,238.39 L369.26,239.26 L369.98,239.01 L370.70,238.79 L371.43,239.39 L372.15,239.59 L372.88,239.58 L373.60,239.86 L374.32,239.46 L375.05,240.24 L375.77,239.91 L376.50,240.58 L377.22,240.21 L377.94,240.53 L378.67,241.26 L379.39,240.74 L380.12,241.11 L380.84,241.07 L381.56,240.72 L382.29,241.44 L383.01,241.52 L383.74,241.06 L384.46,241.45 L385.18,241.23 L385.91,241.58 L386.63,241.92 L387.35,241.82 L388.08,241.62 L388.80,241.76 L389.53,242.03 L390.25,242.09 L390.97,242.20 L391.70,242.36 L392.42,241.95 L393.15,242.39 L393.87,242.67 L394.59,242.62 L395.32,242.47 L396.04,242.56 L396.77,242.76 L397.49,242.91 L398.21,242.86 L398.94,243.19 L399.66,243.19 L400.39,242.94 L401.11,243.18 L401.83,243.12 L402.56,243.07 L403.28,243.20 L404.01,243.33 L404.73,243.16 L405.45,243.36 L406.18,243.51 L406.90,243.44 L407.63,243.51 L408.35,243.68 L409.07,243.62 L409.80,243.67 L410.52,243.89 L411.25,243.73 L411.97,243.77 L412.69,243.80 L413.42,243.95 L414.14,243.83 L414.87,243.81 L415.59,243.80" stroke="#1010f5" stroke-width="2.2" fill="none" stroke-linejoin="round" stroke-linecap="round"/>
<path d="M126.00,243.30 L126.72,243.03 L127.45,243.27 L128.17,243.10 L128.90,242.85 L129.62,243.11 L130.34,243.06 L131.07,242.78 L131.79,242.97 L132.52,242.92 L133.24,242.80 L133.96,242.63 L134.69,243.13 L135.41,242.87 L136.14,242.87 L136.86,242.85 L137.58,242.78 L138.31,242.75 L139.03,242.52 L139.76,242.71 L140.48,242.51 L141.20,242.45 L141.93,242.64 L142.65,242.48 L143.38,242.20 L144.10,242.44 L144.82,242.62 L145.55,242.53 L146.27,242.70 L147.00,242.51 L147.72,242.42 L148.44,242.75 L149.17,242.67 L149.89,242.47 L150.62,242.78 L151.34,242.70 L152.06,242.93 L152.79,242.93 L153.51,242.92 L154.24,242.53 L154.96,242.97 L155.68,243.02 L156.41,243.05 L157.13,243.02 L157.85,242.93 L158.58,243.02 L159.30,242.78 L160.03,243.06 L160.75,242.91 L161.47,243.09 L162.20,243.05 L162.92,243.34 L163.65,243.16 L164.37,243.16 L165.09,243.18 L165.82,243.42 L166.54,243.00 L167.27,243.16 L167.99,243.15 L168.71,243.09 L169.44,243.06 L170.16,242.92 L170.89,243.13 L171.61,243.02 L172.33,242.77 L173.06,242.71 L173.78,242.71 L174.51,242.64 L175.23,242.58 L175.95,242.30 L176.68,241.91 L177.40,242.18 L178.13,241.46 L178.85,241.37 L179.57,241.40 L180.30,240.83 L181.02,241.04 L181.75,240.77 L182.47,240.27 L183.19,239.61 L183.92,239.10 L184.64,238.61 L185.37,237.82 L186.09,237.85 L186.81,236.28 L187.54,236.11 L188.26,234.97 L188.99,233.92 L189.71,233.14 L190.43,232.08 L191.16,230.69 L191.88,228.92 L192.61,227.18 L193.33,225.58 L194.05,224.59 L194.78,222.67 L195.50,220.77 L196.23,217.96 L196.95,217.06 L197.67,212.87 L198.40,211.32 L199.12,208.83 L199.85,205.32 L200.57,201.90 L201.29,199.23 L202.02,195.48 L202.74,192.71 L203.47,188.39 L204.19,184.69 L204.91,181.91 L205.64,176.80 L206.36,173.80 L207.09,169.75 L207.81,166.42 L208.53,161.62 L209.26,156.35 L209.98,153.87 L210.71,147.67 L211.43,143.54 L212.15,139.19 L212.88,137.25 L213.60,130.84 L214.32,125.79 L215.05,123.05 L215.77,118.07 L216.50,116.72 L217.22,109.63 L217.94,107.41 L218.67,102.23 L219.39,101.97 L220.12,96.06 L220.84,94.28 L221.56,90.50 L222.29,90.18 L223.01,87.59 L223.74,81.76 L224.46,84.17 L225.18,83.59 L225.91,81.98 L226.63,81.25 L227.36,78.84 L228.08,79.43 L228.80,81.50 L229.53,83.05 L230.25,82.15 L230.98,84.04 L231.70,85.42 L232.42,86.82 L233.15,92.22 L233.87,94.20 L234.60,98.40 L235.32,101.49 L236.04,102.11 L236.77,107.42 L237.49,107.89 L238.22,114.10 L238.94,118.83 L239.66,121.42 L240.39,124.61 L241.11,130.24 L241.84,136.26 L242.56,139.08 L243.28,142.54 L244.01,148.71 L244.73,153.35 L245.46,156.11 L246.18,161.21 L246.90,166.52 L247.63,170.08 L248.35,174.47 L249.08,177.26 L249.80,180.76 L250.52,183.21 L251.25,186.67 L251.97,191.31 L252.70,192.77 L253.42,195.18 L254.14,198.12 L254.87,200.25 L255.59,203.65 L256.32,206.15 L257.04,207.13 L257.76,210.35 L258.49,212.86 L259.21,212.82 L259.94,215.47 L260.66,216.79 L261.38,218.80 L262.11,220.09 L262.83,221.21 L263.56,221.93 L264.28,222.59 L265.00,224.78 L265.73,224.14 L266.45,225.75 L267.18,226.30 L267.90,226.01 L268.62,226.76 L269.35,227.72 L270.07,226.45 L270.80,227.76 L271.52,227.30 L272.24,227.25 L272.97,226.56 L273.69,227.13 L274.41,226.14 L275.14,226.50 L275.86,225.13 L276.59,225.41 L277.31,224.55 L278.03,222.72 L278.76,222.64 L279.48,221.85 L280.21,219.82 L280.93,219.74 L281.65,219.27 L282.38,217.34 L283.10,217.20 L283.83,214.75 L284.55,213.47 L285.27,213.23 L286.00,212.02 L286.72,210.30 L287.45,209.15 L288.17,208.52 L288.89,206.37 L289.62,206.81 L290.34,204.69 L291.07,203.59 L291.79,202.49 L292.51,201.17 L293.24,201.30 L293.96,199.31 L294.69,199.12 L295.41,198.83 L296.13,198.81 L296.86,198.30 L297.58,196.97 L298.31,197.69 L299.03,196.94 L299.75,196.32 L300.48,196.49 L301.20,196.35 L301.93,197.86 L302.65,198.67 L303.37,197.61 L304.10,198.58 L304.82,198.63 L305.55,200.05 L306.27,200.01 L306.99,201.03 L307.72,201.93 L308.44,202.87 L309.17,203.75 L309.89,204.73 L310.61,205.69 L311.34,206.22 L312.06,208.17 L312.79,207.87 L313.51,210.03 L314.23,210.44 L314.96,212.09 L315.68,213.18 L316.41,212.93 L317.13,215.28 L317.85,216.86 L318.58,217.60 L319.30,218.40 L320.03,218.09 L320.75,220.01 L321.47,220.48 L322.20,222.18 L322.92,222.21 L323.65,222.71 L324.37,222.79 L325.09,224.55 L325.82,224.49 L326.54,225.16 L327.27,226.27 L327.99,226.31 L328.71,226.90 L329.44,228.26 L330.16,227.41 L330.88,227.86 L331.61,228.66 L332.33,229.40 L333.06,228.53 L333.78,229.35 L334.50,229.34 L335.23,229.46 L335.95,230.52 L336.68,230.24 L337.40,230.92 L338.12,231.09 L338.85,231.33 L339.57,231.53 L340.30,231.31 L341.02,231.92 L341.74,232.23 L342.47,232.49 L343.19,232.46 L343.92,233.12 L344.64,233.18 L345.36,233.20 L346.09,233.59 L346.81,233.61 L347.54,233.98 L348.26,233.22 L348.98,233.65 L349.71,234.14 L350.43,234.50 L351.16,233.89 L351.88,234.71 L352.60,235.03 L353.33,235.06 L354.05,235.22 L354.78,235.02 L355.50,235.66 L356.22,235.11 L356.95,236.26 L357.67,235.90 L358.40,236.60 L359.12,235.84 L359.84,236.69 L360.57,236.75 L361.29,236.58 L362.02,236.63 L362.74,237.51 L363.46,237.41 L364.19,237.87 L364.91,237.55 L365.64,237.76 L366.36,237.97 L367.08,238.21 L367.81,238.26 L368.53,238.50 L369.26,238.27 L369.98,238.13 L370.70,239.24 L371.43,238.87 L372.15,239.09 L372.88,238.97 L373.60,239.50 L374.32,239.41 L375.05,239.78 L375.77,239.45 L376.50,239.73 L377.22,239.92 L377.94,239.91 L378.67,240.19 L379.39,240.63 L380.12,240.21 L380.84,240.40 L381.56,240.61 L382.29,240.45 L383.01,240.49 L383.74,241.13 L384.46,241.15 L385.18,240.71 L385.91,240.83 L386.63,241.39 L387.35,241.56 L388.08,241.52 L388.80,241.56 L389.53,241.87 L390.25,241.59 L390.97,241.94 L391.70,242.00 L392.42,241.63 L393.15,242.03 L393.87,241.98 L394.59,241.91 L395.32,241.95 L396.04,242.23 L396.77,242.23 L397.49,242.46 L398.21,242.05 L398.94,242.31 L399.66,242.69 L400.39,242.55 L401.11,242.49 L401.83,242.59 L402.56,242.42 L403.28,242.56 L404.01,242.91 L404.73,242.89 L405.45,243.12 L406.18,242.93 L406.90,242.99 L407.63,242.67 L408.35,243.08 L409.07,243.41 L409.80,243.25 L410.52,243.17 L411.25,243.37 L411.97,243.34 L412.69,243.30 L413.42,243.24 L414.14,243.31 L414.87,243.39 L415.59,243.24" stroke="#8a8a08" stroke-width="2.2" fill="none" stroke-linejoin="round" stroke-linecap="round"/>
<path d="M126.00,243.21 L126.72,243.19 L127.45,243.29 L128.17,243.18 L128.90,242.95 L129.62,243.25 L130.34,242.99 L131.07,242.84 L131.79,242.97 L132.52,242.84 L133.24,243.02 L133.96,242.59 L134.69,242.59 L135.41,242.69 L136.14,242.99 L136.86,242.84 L137.58,242.47 L138.31,242.31 L139.03,242.53 L139.76,242.34 L140.48,242.64 L141.20,242.55 L141.93,242.51 L142.65,242.43 L143.38,242.77 L144.10,242.34 L144.82,242.28 L145.55,242.72 L146.27,242.77 L147.00,242.49 L147.72,242.69 L148.44,243.01 L149.17,242.49 L149.89,242.64 L150.62,242.77 L151.34,242.38 L152.06,242.74 L152.79,242.92 L153.51,242.82 L154.24,243.03 L154.96,243.02 L155.68,242.88 L156.41,243.05 L157.13,243.07 L157.85,242.79 L158.58,242.93 L159.30,242.96 L160.03,243.02 L160.75,243.05 L161.47,242.93 L162.20,243.14 L162.92,242.90 L163.65,243.28 L164.37,243.19 L165.09,243.34 L165.82,243.19 L166.54,243.07 L167.27,242.92 L167.99,243.19 L168.71,243.07 L169.44,243.09 L170.16,243.11 L170.89,243.14 L171.61,242.89 L172.33,243.11 L173.06,242.75 L173.78,242.67 L174.51,242.69 L175.23,242.64 L175.95,242.58 L176.68,241.81 L177.40,242.26 L178.13,241.47 L178.85,241.43 L179.57,241.38 L180.30,241.27 L181.02,240.43 L181.75,239.88 L182.47,240.13 L183.19,239.50 L183.92,238.60 L184.64,238.21 L185.37,237.06 L186.09,237.12 L186.81,235.97 L187.54,235.69 L188.26,233.55 L188.99,233.50 L189.71,232.91 L190.43,230.83 L191.16,229.45 L191.88,227.04 L192.61,226.38 L193.33,224.45 L194.05,222.22 L194.78,219.63 L195.50,218.24 L196.23,215.25 L196.95,212.97 L197.67,210.71 L198.40,207.60 L199.12,204.56 L199.85,201.92 L200.57,197.09 L201.29,195.26 L202.02,189.68 L202.74,185.87 L203.47,182.53 L204.19,178.78 L204.91,173.93 L205.64,168.77 L206.36,163.81 L207.09,159.35 L207.81,153.76 L208.53,150.11 L209.26,144.24 L209.98,140.78 L210.71,133.27 L211.43,128.61 L212.15,123.92 L212.88,117.03 L213.60,112.30 L214.32,110.97 L215.05,102.81 L215.77,99.56 L216.50,91.92 L217.22,85.63 L217.94,84.69 L218.67,79.77 L219.39,76.18 L220.12,71.74 L220.84,67.94 L221.56,64.01 L222.29,63.57 L223.01,57.16 L223.74,58.92 L224.46,56.10 L225.18,52.79 L225.91,50.99 L226.63,53.87 L227.36,54.19 L228.08,52.77 L228.80,50.66 L229.53,52.31 L230.25,58.08 L230.98,57.05 L231.70,58.06 L232.42,61.53 L233.15,65.02 L233.87,66.87 L234.60,71.57 L235.32,74.85 L236.04,79.19 L236.77,81.97 L237.49,90.71 L238.22,91.67 L238.94,98.21 L239.66,103.16 L240.39,108.95 L241.11,115.03 L241.84,118.63 L242.56,124.19 L243.28,128.24 L244.01,135.46 L244.73,137.85 L245.46,144.17 L246.18,149.78 L246.90,155.24 L247.63,160.23 L248.35,165.34 L249.08,169.11 L249.80,172.57 L250.52,176.50 L251.25,181.10 L251.97,183.69 L252.70,187.49 L253.42,189.91 L254.14,191.76 L254.87,195.54 L255.59,198.92 L256.32,202.38 L257.04,204.68 L257.76,207.15 L258.49,207.85 L259.21,210.79 L259.94,212.22 L260.66,214.39 L261.38,215.65 L262.11,216.49 L262.83,219.01 L263.56,220.12 L264.28,221.52 L265.00,221.74 L265.73,223.61 L266.45,224.49 L267.18,225.32 L267.90,225.93 L268.62,225.58 L269.35,225.03 L270.07,226.94 L270.80,226.26 L271.52,226.66 L272.24,227.26 L272.97,226.79 L273.69,226.57 L274.41,226.48 L275.14,224.91 L275.86,226.19 L276.59,224.57 L277.31,223.95 L278.03,223.66 L278.76,222.51 L279.48,221.27 L280.21,220.69 L280.93,219.56 L281.65,218.35 L282.38,218.69 L283.10,215.66 L283.83,214.03 L284.55,213.52 L285.27,212.26 L286.00,212.41 L286.72,210.42 L287.45,209.59 L288.17,208.24 L288.89,206.09 L289.62,206.01 L290.34,204.47 L291.07,204.53 L291.79,202.40 L292.51,201.29 L293.24,200.94 L293.96,200.17 L294.69,197.74 L295.41,199.20 L296.13,198.60 L296.86,198.04 L297.58,196.40 L298.31,195.61 L299.03,196.76 L299.75,197.53 L300.48,197.48 L301.20,196.69 L301.93,198.28 L302.65,196.97 L303.37,197.35 L304.10,198.74 L304.82,198.95 L305.55,199.56 L306.27,199.78 L306.99,202.27 L307.72,201.63 L308.44,203.44 L309.17,204.49 L309.89,204.82 L310.61,205.96 L311.34,207.43 L312.06,208.83 L312.79,209.48 L313.51,209.11 L314.23,209.88 L314.96,211.67 L315.68,212.37 L316.41,214.36 L317.13,215.16 L317.85,216.02 L318.58,217.80 L319.30,218.76 L320.03,219.16 L320.75,220.28 L321.47,221.48 L322.20,221.50 L322.92,222.51 L323.65,222.54 L324.37,223.65 L325.09,224.37 L325.82,224.72 L326.54,225.38 L327.27,226.11 L327.99,226.48 L328.71,226.45 L329.44,226.95 L330.16,227.12 L330.88,228.82 L331.61,228.64 L332.33,229.01 L333.06,229.08 L333.78,229.65 L334.50,229.97 L335.23,229.72 L335.95,230.24 L336.68,231.04 L337.40,230.29 L338.12,230.67 L338.85,231.53 L339.57,231.20 L340.30,232.03 L341.02,231.53 L341.74,232.26 L342.47,232.69 L343.19,232.73 L343.92,233.08 L344.64,232.92 L345.36,233.12 L346.09,233.36 L346.81,233.77 L347.54,235.08 L348.26,233.91 L348.98,234.80 L349.71,234.22 L350.43,234.08 L351.16,234.56 L351.88,234.96 L352.60,235.06 L353.33,235.21 L354.05,235.52 L354.78,235.69 L355.50,235.96 L356.22,235.42 L356.95,235.97 L357.67,235.81 L358.40,236.36 L359.12,236.41 L359.84,236.63 L360.57,236.58 L361.29,236.61 L362.02,236.94 L362.74,237.37 L363.46,237.55 L364.19,236.94 L364.91,237.67 L365.64,237.81 L366.36,237.43 L367.08,237.68 L367.81,237.99 L368.53,238.40 L369.26,237.75 L369.98,238.45 L370.70,238.54 L371.43,238.88 L372.15,239.36 L372.88,239.47 L373.60,239.13 L374.32,239.27 L375.05,239.57 L375.77,239.94 L376.50,240.13 L377.22,239.97 L377.94,240.38 L378.67,239.90 L379.39,239.96 L380.12,239.66 L380.84,240.25 L381.56,240.72 L382.29,240.89 L383.01,241.59 L383.74,241.02 L384.46,241.01 L385.18,240.84 L385.91,241.01 L386.63,241.10 L387.35,241.26 L388.08,241.24 L388.80,241.14 L389.53,241.75 L390.25,241.70 L390.97,241.96 L391.70,241.41 L392.42,241.56 L393.15,241.74 L393.87,242.20 L394.59,242.00 L395.32,242.15 L396.04,242.15 L396.77,242.27 L397.49,242.21 L398.21,242.44 L398.94,242.28 L399.66,242.45 L400.39,242.60 L401.11,242.63 L401.83,242.74 L402.56,242.59 L403.28,242.82 L404.01,242.78 L404.73,242.94 L405.45,243.15 L406.18,242.83 L406.90,243.17 L407.63,242.96 L408.35,243.03 L409.07,243.35 L409.80,243.28 L410.52,243.25 L411.25,243.32 L411.97,243.38 L412.69,243.17 L413.42,243.30 L414.14,243.25 L414.87,243.35 L415.59,243.28" stroke="#108a8a" stroke-width="2.2" fill="none" stroke-linejoin="round" stroke-linecap="round"/>
<rect x="281.1" y="21.1" width="154.29999999999995" height="115.4" fill="#fff" stroke="none"/>
<rect x="283.1" y="23.1" width="150.3" height="111.4" fill="#fff" stroke="#000" stroke-width="1.3"/>
<line x1="281.7" y1="134.49" x2="283.1" y2="134.49" stroke="#000" stroke-width="1.2"/>
<line x1="280.5" y1="123.35" x2="283.1" y2="123.35" stroke="#000" stroke-width="1.2"/>
<text x="279.2" y="126.35" class="il" text-anchor="end">0.0</text>
<line x1="281.7" y1="112.21" x2="283.1" y2="112.21" stroke="#000" stroke-width="1.2"/>
<line x1="280.5" y1="101.07" x2="283.1" y2="101.07" stroke="#000" stroke-width="1.2"/>
<text x="279.2" y="104.07" class="il" text-anchor="end">0.2</text>
<line x1="281.7" y1="89.93" x2="283.1" y2="89.93" stroke="#000" stroke-width="1.2"/>
<line x1="280.5" y1="78.79" x2="283.1" y2="78.79" stroke="#000" stroke-width="1.2"/>
<text x="279.2" y="81.79" class="il" text-anchor="end">0.4</text>
<line x1="281.7" y1="67.65" x2="283.1" y2="67.65" stroke="#000" stroke-width="1.2"/>
<line x1="280.5" y1="56.51" x2="283.1" y2="56.51" stroke="#000" stroke-width="1.2"/>
<text x="279.2" y="59.51" class="il" text-anchor="end">0.6</text>
<line x1="281.7" y1="45.37" x2="283.1" y2="45.37" stroke="#000" stroke-width="1.2"/>
<line x1="280.5" y1="34.23" x2="283.1" y2="34.23" stroke="#000" stroke-width="1.2"/>
<text x="279.2" y="37.23" class="il" text-anchor="end">0.8</text>
<line x1="283.18" y1="134.5" x2="283.18" y2="135.9" stroke="#000" stroke-width="1.2"/>
<line x1="298.20" y1="134.5" x2="298.20" y2="137.1" stroke="#000" stroke-width="1.2"/>
<text x="298.20" y="144.8" class="il" text-anchor="middle">0</text>
<line x1="313.22" y1="134.5" x2="313.22" y2="135.9" stroke="#000" stroke-width="1.2"/>
<line x1="328.24" y1="134.5" x2="328.24" y2="137.1" stroke="#000" stroke-width="1.2"/>
<text x="328.24" y="144.8" class="il" text-anchor="middle">2</text>
<line x1="343.26" y1="134.5" x2="343.26" y2="135.9" stroke="#000" stroke-width="1.2"/>
<line x1="358.28" y1="134.5" x2="358.28" y2="137.1" stroke="#000" stroke-width="1.2"/>
<text x="358.28" y="144.8" class="il" text-anchor="middle">4</text>
<line x1="373.30" y1="134.5" x2="373.30" y2="135.9" stroke="#000" stroke-width="1.2"/>
<line x1="388.32" y1="134.5" x2="388.32" y2="137.1" stroke="#000" stroke-width="1.2"/>
<text x="388.32" y="144.8" class="il" text-anchor="middle">6</text>
<line x1="403.34" y1="134.5" x2="403.34" y2="135.9" stroke="#000" stroke-width="1.2"/>
<line x1="418.36" y1="134.5" x2="418.36" y2="137.1" stroke="#000" stroke-width="1.2"/>
<text x="418.36" y="144.8" class="il" text-anchor="middle">8</text>
<line x1="433.38" y1="134.5" x2="433.38" y2="135.9" stroke="#000" stroke-width="1.2"/>
<line x1="286.18" y1="129.70" x2="430.83" y2="34.87" stroke="#0a8080" stroke-width="1.3"/>
<rect x="296.70" y="118.62" width="3" height="3" fill="#000"/>
<rect x="311.72" y="112.60" width="3" height="3" fill="#000"/>
<rect x="326.74" y="103.69" width="3" height="3" fill="#000"/>
<rect x="356.78" y="78.07" width="3" height="3" fill="#000"/>
<rect x="386.82" y="56.57" width="3" height="3" fill="#000"/>
<rect x="416.86" y="40.64" width="3" height="3" fill="#000"/>
<text x="358.3" y="156.8" class="it" text-anchor="middle">Concentration (&#956;M)</text>
<text transform="translate(259.8,83.4) rotate(-90)" class="it" style="font-size:9px" text-anchor="middle">F<tspan font-size="7" dy="2">a</tspan><tspan dy="-2">/F</tspan><tspan font-size="7" dy="2">0</tspan></text>
<text x="228.6" y="44.8" class="cl" text-anchor="middle">f</text>
<text x="228.0" y="74.6" class="cl" text-anchor="middle">e</text>
<text x="227.2" y="129.7" class="cl" text-anchor="middle">d</text>
<text x="226.6" y="192.5" class="cl" text-anchor="middle">c</text>
<text x="228.2" y="216.6" class="cl" text-anchor="middle">b</text>
<text x="226.3" y="232.8" class="cl" text-anchor="middle">a</text>
<!-- table -->
<g>
<rect x="43.2" y="340.4" width="233.2" height="38.2" fill="#d4e9ec"/>
<rect x="43.2" y="378.6" width="233.2" height="28.7" fill="#f4fafb"/>
<rect x="43.2" y="407.3" width="233.2" height="29.1" fill="#ffffff"/>
<rect x="43.2" y="436.4" width="233.2" height="31.1" fill="#f4fafb"/>
<rect x="43.2" y="467.5" width="233.2" height="31.4" fill="#ffffff"/>
<g stroke="#e4f2f2" stroke-width="1" fill="none">
<rect x="43.2" y="340.4" width="233.2" height="158.5"/>
<line x1="43.2" y1="407.3" x2="276.4" y2="407.3"/>
<line x1="43.2" y1="436.4" x2="276.4" y2="436.4"/>
<line x1="43.2" y1="467.5" x2="276.4" y2="467.5"/>
</g>
<text x="81.9" y="355.5" class="th">Input 1</text>
<text x="81.9" y="371.6" class="th">(Hg<tspan font-size="8.6" dy="-4.2">2+</tspan><tspan dy="4.2">)</tspan></text>
<text x="159.8" y="355.5" class="th">Input 2</text>
<text x="159.8" y="371.6" class="th">(GSH)</text>
<text x="238.0" y="363.6" class="th">Output</text>
<text x="81.9" y="397.5" class="td">0</text><text x="159.8" y="397.5" class="td">0</text><text x="238.2" y="397.5" class="td">1</text>
<text x="81.9" y="426.4" class="td">0</text><text x="159.8" y="426.4" class="td">1</text><text x="238.2" y="426.4" class="td">1</text>
<text x="81.9" y="456.1" class="td">1</text><text x="159.8" y="456.1" class="td">0</text><text x="238.2" y="456.1" class="td">0</text>
<text x="81.9" y="487.3" class="td">1</text><text x="159.8" y="487.3" class="td">1</text><text x="238.2" y="487.3" class="td">1</text>
</g>
<!-- gate -->
<g>
<rect x="302.1" y="379.6" width="226.8" height="81.4" fill="none" stroke="#98caca" stroke-width="1.7"/>
<text x="312.3" y="414.9" class="gl">Hg<tspan font-size="8.6" dy="-4">2+</tspan></text>
<text x="312.3" y="438.5" class="gl">GSH</text>
<text x="472.7" y="428.6" class="gl">Output</text>
<g stroke="#111" stroke-width="1.5" fill="none">
<line x1="345.1" y1="409.7" x2="401.8" y2="409.7"/>
<line x1="345.3" y1="434.5" x2="367.1" y2="434.5"/>
<path d="M367.1,426.7 L367.1,441.4 L379.6,434.05 Z"/>
<circle cx="383.2" cy="434.4" r="2.5"/>
<line x1="385.7" y1="434.5" x2="401.8" y2="434.5"/>
<path d="M401.8,400.8 L425,400.8 A19.9,21.3 0 0 1 425,443.4 L401.8,443.4 Z"/>
<circle cx="447.4" cy="422.1" r="2.5"/>
<line x1="449.9" y1="422.1" x2="466.4" y2="422.1"/>
</g>
</g>
</svg>
</body></html>
